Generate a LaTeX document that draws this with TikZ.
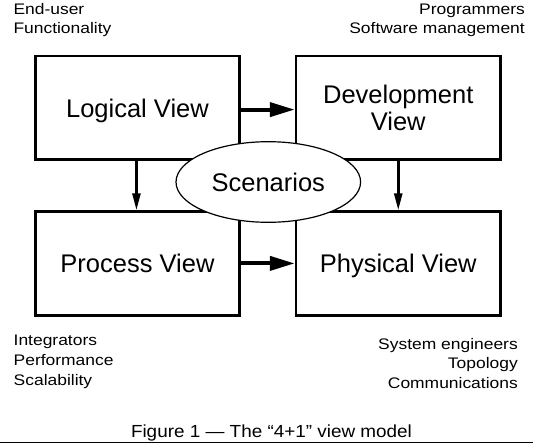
\documentclass[tikz,border=0pt]{standalone}
\usepackage{fontspec}
\setmainfont{Liberation Sans}
\newfontfamily\labfont[FakeStretch=1.14]{Liberation Sans}
\newfontfamily\capfont[FakeStretch=1.08]{Liberation Sans}
\usetikzlibrary{arrows.meta,shapes.geometric}
\begin{document}
\begin{tikzpicture}[x=1pt,y=-1pt,
  view/.style={draw, line width=2.7pt, fill=white, minimum width=204.3pt, minimum height=103.6pt,
    inner sep=0pt, align=center, text depth=0pt, font=\fontsize{25.5}{27}\selectfont},
  scen/.style={ellipse, draw, fill=white, line width=1.2pt, minimum width=184.6pt,
    minimum height=80.6pt, inner sep=0pt, font=\fontsize{25.5}{27}\selectfont},
  bigarrow/.style={line width=4pt, -{Triangle[length=25pt,width=14pt]}},
  smallarrow/.style={line width=2.6pt, -{Triangle[length=17pt,width=8pt]}},
  lab/.style={inner sep=0pt, font=\labfont\fontsize{15.3}{19}\selectfont},
  lablow/.style={inner sep=0pt, font=\labfont\fontsize{15.3}{19.8}\selectfont},
  caption/.style={inner sep=0pt, font=\capfont\fontsize{17.5}{20}\selectfont},
  rule/.style={line width=1.2pt}]
\useasboundingbox (0,0) rectangle (533,444);

\node[view] (logical) at (137.45,107.8) {Logical View};
\node[view] (dev) at (398.25,107.8) {Development\\View};
\node[view] (process) at (137.45,263.4) {Process View};
\node[view] (physical) at (398.25,263.4) {Physical View};

\draw[bigarrow] ([yshift=-1.8pt]logical.east) -- ([yshift=-1.8pt]dev.west);
\draw[bigarrow] (process.east) -- (physical.west);
\draw[smallarrow] ([xshift=-1pt]logical.south) -- ([xshift=-1pt]process.north);
\draw[smallarrow] (dev.south) -- (physical.north);

\node[scen] (scenarios) at (268.3,182) {Scenarios};

\node[lab, anchor=base west] (enduser) at (13.3,15)
  {\begin{tabular}[t]{@{}l@{}}End-user\\Functionality\end{tabular}};
\node[lab, anchor=base east] (prog) at (525,15)
  {\begin{tabular}[t]{@{}r@{}}Programmers\\Software management\end{tabular}};
\node[lablow, anchor=base west] (integ) at (13.5,345.6)
  {\begin{tabular}[t]{@{}l@{}}Integrators\\Performance\\Scalability\end{tabular}};
\node[lablow, anchor=base east] (syseng) at (518,349)
  {\begin{tabular}[t]{@{}r@{}}System engineers\\Topology\\Communications\end{tabular}};

\node[caption, anchor=base] (cap) at (271.5,437.5) {Figure 1 — The “4+1” view model};

\coordinate (rl) at (0,442.8);
\coordinate (rr) at (533,442.8);
\draw[rule] (rl) -- (rr);
\end{tikzpicture}
\end{document}
